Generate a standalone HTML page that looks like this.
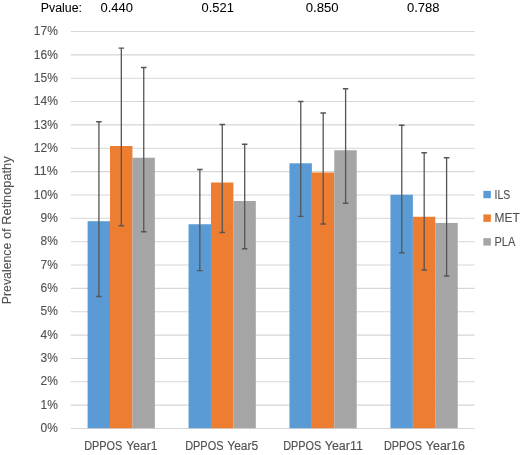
<!DOCTYPE html><html><head><meta charset="utf-8"><title>Prevalence of Retinopathy</title><style>html,body{margin:0;padding:0;background:#fff}svg{display:block}text{font-family:"Liberation Sans",sans-serif;paint-order:stroke}</style></head><body>
<svg width="520" height="455" viewBox="0 0 520 455">
<rect width="520" height="455" fill="#fff"/>
<line x1="70.8" x2="474.5" y1="428.50" y2="428.50" stroke="#d6d6d6" stroke-width="1.1"/>
<line x1="70.8" x2="474.5" y1="405.15" y2="405.15" stroke="#d6d6d6" stroke-width="1.1"/>
<line x1="70.8" x2="474.5" y1="381.79" y2="381.79" stroke="#d6d6d6" stroke-width="1.1"/>
<line x1="70.8" x2="474.5" y1="358.44" y2="358.44" stroke="#d6d6d6" stroke-width="1.1"/>
<line x1="70.8" x2="474.5" y1="335.09" y2="335.09" stroke="#d6d6d6" stroke-width="1.1"/>
<line x1="70.8" x2="474.5" y1="311.74" y2="311.74" stroke="#d6d6d6" stroke-width="1.1"/>
<line x1="70.8" x2="474.5" y1="288.38" y2="288.38" stroke="#d6d6d6" stroke-width="1.1"/>
<line x1="70.8" x2="474.5" y1="265.03" y2="265.03" stroke="#d6d6d6" stroke-width="1.1"/>
<line x1="70.8" x2="474.5" y1="241.68" y2="241.68" stroke="#d6d6d6" stroke-width="1.1"/>
<line x1="70.8" x2="474.5" y1="218.32" y2="218.32" stroke="#d6d6d6" stroke-width="1.1"/>
<line x1="70.8" x2="474.5" y1="194.97" y2="194.97" stroke="#d6d6d6" stroke-width="1.1"/>
<line x1="70.8" x2="474.5" y1="171.62" y2="171.62" stroke="#d6d6d6" stroke-width="1.1"/>
<line x1="70.8" x2="474.5" y1="148.26" y2="148.26" stroke="#d6d6d6" stroke-width="1.1"/>
<line x1="70.8" x2="474.5" y1="124.91" y2="124.91" stroke="#d6d6d6" stroke-width="1.1"/>
<line x1="70.8" x2="474.5" y1="101.56" y2="101.56" stroke="#d6d6d6" stroke-width="1.1"/>
<line x1="70.8" x2="474.5" y1="78.20" y2="78.20" stroke="#d6d6d6" stroke-width="1.1"/>
<line x1="70.8" x2="474.5" y1="54.85" y2="54.85" stroke="#d6d6d6" stroke-width="1.1"/>
<line x1="70.8" x2="474.5" y1="31.50" y2="31.50" stroke="#d6d6d6" stroke-width="1.1"/>
<text x="40.61" y="432.2" font-size="12.5" fill="#505050" stroke="#505050" stroke-width="0.12" textLength="17.33" lengthAdjust="spacingAndGlyphs">0%</text>
<text x="40.61" y="408.85" font-size="12.5" fill="#505050" stroke="#505050" stroke-width="0.12" textLength="17.33" lengthAdjust="spacingAndGlyphs">1%</text>
<text x="40.61" y="385.49" font-size="12.5" fill="#505050" stroke="#505050" stroke-width="0.12" textLength="17.33" lengthAdjust="spacingAndGlyphs">2%</text>
<text x="40.61" y="362.14" font-size="12.5" fill="#505050" stroke="#505050" stroke-width="0.12" textLength="17.33" lengthAdjust="spacingAndGlyphs">3%</text>
<text x="40.61" y="338.79" font-size="12.5" fill="#505050" stroke="#505050" stroke-width="0.12" textLength="17.33" lengthAdjust="spacingAndGlyphs">4%</text>
<text x="40.61" y="315.44" font-size="12.5" fill="#505050" stroke="#505050" stroke-width="0.12" textLength="17.33" lengthAdjust="spacingAndGlyphs">5%</text>
<text x="40.61" y="292.08" font-size="12.5" fill="#505050" stroke="#505050" stroke-width="0.12" textLength="17.33" lengthAdjust="spacingAndGlyphs">6%</text>
<text x="40.61" y="268.73" font-size="12.5" fill="#505050" stroke="#505050" stroke-width="0.12" textLength="17.33" lengthAdjust="spacingAndGlyphs">7%</text>
<text x="40.61" y="245.38" font-size="12.5" fill="#505050" stroke="#505050" stroke-width="0.12" textLength="17.33" lengthAdjust="spacingAndGlyphs">8%</text>
<text x="40.61" y="222.02" font-size="12.5" fill="#505050" stroke="#505050" stroke-width="0.12" textLength="17.33" lengthAdjust="spacingAndGlyphs">9%</text>
<text x="33.80" y="198.67" font-size="12.5" fill="#505050" stroke="#505050" stroke-width="0.12" textLength="24.10" lengthAdjust="spacingAndGlyphs">10%</text>
<text x="33.80" y="175.32" font-size="12.5" fill="#505050" stroke="#505050" stroke-width="0.12" textLength="24.10" lengthAdjust="spacingAndGlyphs">11%</text>
<text x="33.80" y="151.96" font-size="12.5" fill="#505050" stroke="#505050" stroke-width="0.12" textLength="24.10" lengthAdjust="spacingAndGlyphs">12%</text>
<text x="33.80" y="128.61" font-size="12.5" fill="#505050" stroke="#505050" stroke-width="0.12" textLength="24.10" lengthAdjust="spacingAndGlyphs">13%</text>
<text x="33.80" y="105.26" font-size="12.5" fill="#505050" stroke="#505050" stroke-width="0.12" textLength="24.10" lengthAdjust="spacingAndGlyphs">14%</text>
<text x="33.80" y="81.9" font-size="12.5" fill="#505050" stroke="#505050" stroke-width="0.12" textLength="24.10" lengthAdjust="spacingAndGlyphs">15%</text>
<text x="33.80" y="58.55" font-size="12.5" fill="#505050" stroke="#505050" stroke-width="0.12" textLength="24.10" lengthAdjust="spacingAndGlyphs">16%</text>
<text x="33.80" y="35.2" font-size="12.5" fill="#505050" stroke="#505050" stroke-width="0.12" textLength="24.10" lengthAdjust="spacingAndGlyphs">17%</text>
<rect x="87.60" y="221.20" width="22.42" height="207.00" fill="#5b9bd5"/>
<rect x="110.02" y="146.00" width="22.42" height="282.20" fill="#ed7d31"/>
<rect x="132.44" y="157.75" width="22.42" height="270.45" fill="#a5a5a5"/>
<rect x="188.55" y="224.25" width="22.42" height="203.95" fill="#5b9bd5"/>
<rect x="210.97" y="182.50" width="22.42" height="245.70" fill="#ed7d31"/>
<rect x="233.39" y="201.00" width="22.42" height="227.20" fill="#a5a5a5"/>
<rect x="289.46" y="163.30" width="22.42" height="264.90" fill="#5b9bd5"/>
<rect x="311.88" y="172.50" width="22.42" height="255.70" fill="#ed7d31"/>
<rect x="334.30" y="150.25" width="22.42" height="277.95" fill="#a5a5a5"/>
<rect x="390.45" y="194.75" width="22.42" height="233.45" fill="#5b9bd5"/>
<rect x="412.87" y="216.75" width="22.42" height="211.45" fill="#ed7d31"/>
<rect x="435.29" y="222.98" width="22.42" height="205.22" fill="#a5a5a5"/>
<path d="M98.91 296.50V121.75M96.16 296.50h5.5M96.16 121.75h5.5" stroke="#555" stroke-width="1.3" fill="none"/>
<path d="M121.33 225.75V48.20M118.58 225.75h5.5M118.58 48.20h5.5" stroke="#555" stroke-width="1.3" fill="none"/>
<path d="M143.75 231.75V67.50M141.00 231.75h5.5M141.00 67.50h5.5" stroke="#555" stroke-width="1.3" fill="none"/>
<path d="M199.86 270.60V169.50M197.11 270.60h5.5M197.11 169.50h5.5" stroke="#555" stroke-width="1.3" fill="none"/>
<path d="M222.28 232.50V124.50M219.53 232.50h5.5M219.53 124.50h5.5" stroke="#555" stroke-width="1.3" fill="none"/>
<path d="M244.70 248.75V144.25M241.95 248.75h5.5M241.95 144.25h5.5" stroke="#555" stroke-width="1.3" fill="none"/>
<path d="M300.77 216.40V101.50M298.02 216.40h5.5M298.02 101.50h5.5" stroke="#555" stroke-width="1.3" fill="none"/>
<path d="M323.19 224.00V113.00M320.44 224.00h5.5M320.44 113.00h5.5" stroke="#555" stroke-width="1.3" fill="none"/>
<path d="M345.61 203.25V88.75M342.86 203.25h5.5M342.86 88.75h5.5" stroke="#555" stroke-width="1.3" fill="none"/>
<path d="M401.76 252.75V125.25M399.01 252.75h5.5M399.01 125.25h5.5" stroke="#555" stroke-width="1.3" fill="none"/>
<path d="M424.18 270.00V152.75M421.43 270.00h5.5M421.43 152.75h5.5" stroke="#555" stroke-width="1.3" fill="none"/>
<path d="M446.60 276.00V157.75M443.85 276.00h5.5M443.85 157.75h5.5" stroke="#555" stroke-width="1.3" fill="none"/>
<text x="84.20" y="450.2" font-size="12.0" fill="#505050" stroke="#505050" stroke-width="0.15" textLength="38.16" lengthAdjust="spacingAndGlyphs">DPPOS</text>
<text x="126.27" y="450.2" font-size="12.0" fill="#505050" stroke="#505050" stroke-width="0.15" textLength="31.15" lengthAdjust="spacingAndGlyphs">Year1</text>
<text x="185.19" y="450.2" font-size="12.0" fill="#505050" stroke="#505050" stroke-width="0.15" textLength="38.25" lengthAdjust="spacingAndGlyphs">DPPOS</text>
<text x="227.31" y="450.2" font-size="12.0" fill="#505050" stroke="#505050" stroke-width="0.15" textLength="30.72" lengthAdjust="spacingAndGlyphs">Year5</text>
<text x="283.17" y="450.2" font-size="12.0" fill="#505050" stroke="#505050" stroke-width="0.15" textLength="38.04" lengthAdjust="spacingAndGlyphs">DPPOS</text>
<text x="324.75" y="450.2" font-size="12.0" fill="#505050" stroke="#505050" stroke-width="0.15" textLength="38.10" lengthAdjust="spacingAndGlyphs">Year11</text>
<text x="383.96" y="450.2" font-size="12.0" fill="#505050" stroke="#505050" stroke-width="0.15" textLength="38.04" lengthAdjust="spacingAndGlyphs">DPPOS</text>
<text x="425.84" y="450.2" font-size="12.0" fill="#505050" stroke="#505050" stroke-width="0.15" textLength="38.99" lengthAdjust="spacingAndGlyphs">Year16</text>
<text x="40.82" y="11.6" font-size="12.0" fill="#000" stroke="#000" stroke-width="0.05" textLength="41.21" lengthAdjust="spacingAndGlyphs">Pvalue:</text>
<text x="100.51" y="11.8" font-size="12.8" fill="#000" stroke="#000" stroke-width="0.05" textLength="32.48" lengthAdjust="spacingAndGlyphs">0.440</text>
<text x="201.63" y="11.8" font-size="12.8" fill="#000" stroke="#000" stroke-width="0.05" textLength="32.21" lengthAdjust="spacingAndGlyphs">0.521</text>
<text x="305.72" y="11.8" font-size="12.8" fill="#000" stroke="#000" stroke-width="0.05" textLength="32.95" lengthAdjust="spacingAndGlyphs">0.850</text>
<text x="406.90" y="11.8" font-size="12.8" fill="#000" stroke="#000" stroke-width="0.05" textLength="32.59" lengthAdjust="spacingAndGlyphs">0.788</text>
<text transform="translate(11.4,304.15) rotate(-90)" font-size="12.0" fill="#505050" stroke="#505050" stroke-width="0.1" textLength="61.42" lengthAdjust="spacingAndGlyphs">Prevalence</text>
<text transform="translate(11.4,239.06) rotate(-90)" font-size="12.0" fill="#505050" stroke="#505050" stroke-width="0.1" textLength="10.66" lengthAdjust="spacingAndGlyphs">of</text>
<text transform="translate(11.4,224.74) rotate(-90)" font-size="12.0" fill="#505050" stroke="#505050" stroke-width="0.1" textLength="68.33" lengthAdjust="spacingAndGlyphs">Retinopathy</text>
<rect x="483.35" y="190.85" width="7.5" height="7.4" fill="#5b9bd5"/>
<text x="494.62" y="198.5" font-size="12.3" fill="#505050" stroke="#505050" stroke-width="0.1" textLength="15.70" lengthAdjust="spacingAndGlyphs">ILS</text>
<rect x="483.35" y="214.45" width="7.5" height="7.4" fill="#ed7d31"/>
<text x="494.53" y="222.0" font-size="12.3" fill="#505050" stroke="#505050" stroke-width="0.1" textLength="25.20" lengthAdjust="spacingAndGlyphs">MET</text>
<rect x="483.35" y="238.15" width="7.5" height="7.4" fill="#a5a5a5"/>
<text x="494.46" y="245.7" font-size="12.3" fill="#505050" stroke="#505050" stroke-width="0.1" textLength="20.81" lengthAdjust="spacingAndGlyphs">PLA</text>
</svg></body></html>
